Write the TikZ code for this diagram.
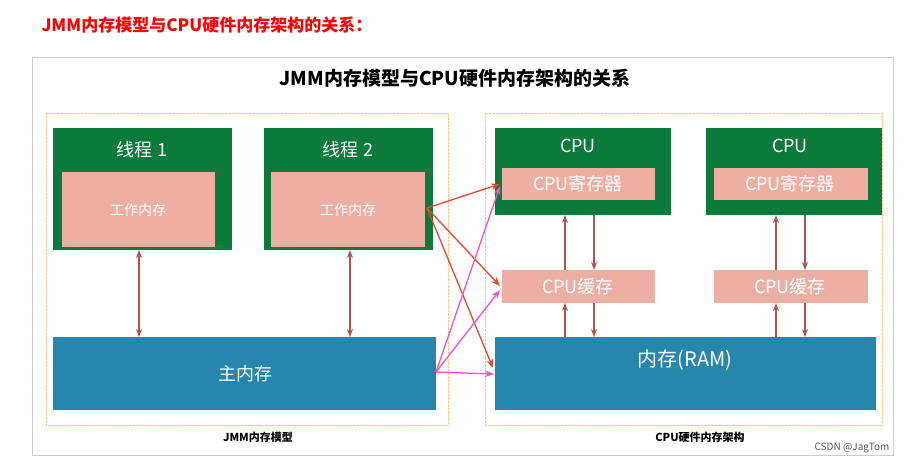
\documentclass[tikz,border=0pt]{standalone}
\usepackage{fontspec}
\setmainfont{Noto Sans CJK SC}
\usetikzlibrary{arrows.meta}
\definecolor{gr}{HTML}{0B7A3A}
\definecolor{pk}{HTML}{EDAFA3}
\definecolor{bl}{HTML}{2686AE}
\definecolor{ar}{HTML}{B5524A}
\definecolor{rd}{HTML}{E8492E}
\definecolor{mg}{HTML}{EE55C0}
\begin{document}
\begin{tikzpicture}[x=1pt,y=-1pt,
 dotbox/.style={draw=orange!50,densely dotted},
 v/.style={draw=ar,line width=1.5pt,-{Stealth[length=8pt]}},
 vv/.style={draw=ar,line width=1.3pt,{Stealth[length=8pt]}-{Stealth[length=8pt]}},
 ra/.style={draw=rd,line width=1.3pt,-{Stealth[length=9pt]}},
 ma/.style={draw=mg,line width=1.3pt,-{Stealth[length=9pt]}},
 wt/.style={text=white,font=\fontsize{18}{20}\selectfont}]
\useasboundingbox (0,0) rectangle (905,465);
\fill[white] (0,0) rectangle (905,465);
\node[anchor=west,text=red,font=\bfseries\fontsize{17}{19}\selectfont] (top) at (38,25) {JMM内存模型与CPU硬件内存架构的关系：};
\draw[gray!40] (32,57) rectangle (893,455);
\node[font=\bfseries\fontsize{19}{21}\selectfont] (title) at (455,78) {JMM内存模型与CPU硬件内存架构的关系};
\draw[dotbox] (46,113) rectangle (448,425);
\draw[dotbox] (485,113) rectangle (882,425);
% threads
\fill[gr] (53,128) rectangle (232,250);
\node[wt] (t1) at (142,150) {线程 1};
\fill[pk] (62,172) rectangle (215,247);
\node[wt,font=\fontsize{14}{16}\selectfont] (w1) at (138,210) {工作内存};
\fill[gr] (264,128) rectangle (433,250);
\node[wt] (t2) at (348,150) {线程 2};
\fill[pk] (271,172) rectangle (425,247);
\node[wt,font=\fontsize{14}{16}\selectfont] (w2) at (348,210) {工作内存};
\fill[bl] (53,337) rectangle (436,410);
\node[wt] (mm) at (245,374) {主内存};
% cpus
\fill[gr] (495,128) rectangle (671,215);
\node[wt] (c1) at (578,146) {CPU};
\fill[pk] (502,168) rectangle (655,200);
\node[wt] (r1) at (578,184) {CPU寄存器};
\fill[gr] (706,128) rectangle (882,215);
\node[wt] (c2) at (790,146) {CPU};
\fill[pk] (714,168) rectangle (868,200);
\node[wt] (r2) at (790,184) {CPU寄存器};
\fill[pk] (502,270) rectangle (655,303);
\node[wt] (k1) at (578,287) {CPU缓存};
\fill[pk] (714,270) rectangle (868,303);
\node[wt] (k2) at (790,287) {CPU缓存};
\fill[bl] (495,337) rectangle (876,410);
\node[wt,font=\fontsize{20}{22}\selectfont] (ram) at (685,360) {内存(RAM)};
\node[font=\bfseries\fontsize{11}{13}\selectfont] (l1) at (258,437) {JMM内存模型};
\node[font=\bfseries\fontsize{11}{13}\selectfont] (l2) at (700,437) {CPU硬件内存架构};
\node[font=\fontsize{10}{12}\selectfont,text=gray!70!black] (cs) at (852,448) {CSDN @JagTom};
% vertical arrows
\coordinate (a1) at (139,250); \coordinate (b1) at (139,337);
\draw[vv] (a1) -- (b1);
\coordinate (a2) at (350,250); \coordinate (b2) at (350,337);
\draw[vv] (a2) -- (b2);
\foreach \u/\d in {565/594,776/805}{
 \draw[v] (\u,270) -- (\u,215);
 \draw[v] (\d,215) -- (\d,270);
 \draw[v] (\u,337) -- (\u,303);
 \draw[v] (\d,303) -- (\d,337);
}
% cross arrows
\coordinate (s) at (427,208);
\coordinate (m) at (436,372);
\draw[ra] (s) -- (500,184);
\draw[ra] (s) -- (500,286);
\draw[ra] (s) -- (493,368);
\draw[ma] (m) -- (500,186);
\draw[ma] (m) -- (500,290);
\draw[ma] (m) -- (494,374);
\end{tikzpicture}
\end{document}
